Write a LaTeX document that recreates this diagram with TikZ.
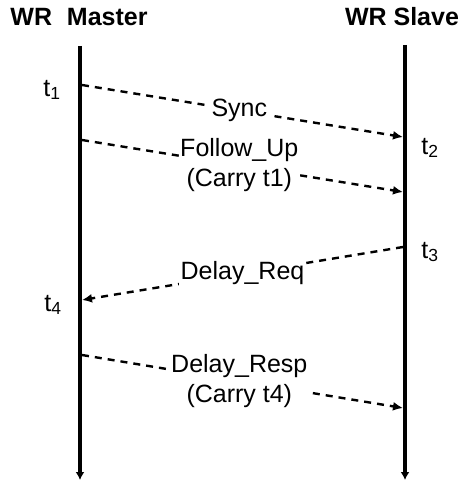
\documentclass[tikz,border=0pt]{standalone}
\usepackage{fontspec}
\setmainfont{Liberation Sans}
\usetikzlibrary{arrows.meta}
\tikzset{
  lifeline/.style={line width=3.5pt,-{Latex[length=8pt,width=9pt]}},
  msg/.style={line width=2.4pt,dash pattern=on 7pt off 6pt,-{Latex[length=10pt,width=9pt]}},
  msglabel/.style={fill=white,inner sep=1.5pt,font=\fontsize{25}{30}\selectfont,align=center},
  title/.style={font=\bfseries\fontsize{25}{27}\selectfont,inner sep=0pt},
  tlabel/.style={font=\fontsize{25}{27}\selectfont,inner sep=0pt}
}
\begin{document}
\begin{tikzpicture}[x=1pt,y=-1pt]
\useasboundingbox (0,0) rectangle (474,484);
% titles
\node[title] (mt) at (79,17) {WR\hspace{8pt} Master};
\node[title] (st) at (402,17) {WR Slave};
% lifelines
\coordinate (m0) at (80,46);
\coordinate (m1) at (80,480);
\coordinate (s0) at (405,45);
\coordinate (s1) at (405,480);
\draw[lifeline] (m0) -- (m1);
\draw[lifeline] (s0) -- (s1);
% event points
\coordinate (t1) at (82,85);
\coordinate (t2) at (403,137);
\coordinate (f1) at (82,140);
\coordinate (f2) at (403,192);
\coordinate (t3) at (403,247);
\coordinate (t4) at (82,300);
\coordinate (d1) at (82,355);
\coordinate (d2) at (403,408);
% time labels
\node[tlabel] (lt1) at (52,90) {t\textsubscript{1}};
\node[tlabel] (lt2) at (430,148) {t\textsubscript{2}};
\node[tlabel] (lt3) at (430,252) {t\textsubscript{3}};
\node[tlabel] (lt4) at (53,305) {t\textsubscript{4}};
% messages
\draw[msg] (t1) -- node[msglabel,pos=0.49] (sync) {Sync} (t2);
\draw[msg] (f1) -- node[msglabel,pos=0.49] (fup) {Follow\_Up\\(Carry t1)} (f2);
\draw[msg] (t3) -- node[msglabel,pos=0.5] (dreq) {Delay\_Req} (t4);
\draw[msg] (d1) -- node[msglabel,pos=0.49] (dresp) {Delay\_Resp\\(Carry t4)} (d2);
\end{tikzpicture}
\end{document}
